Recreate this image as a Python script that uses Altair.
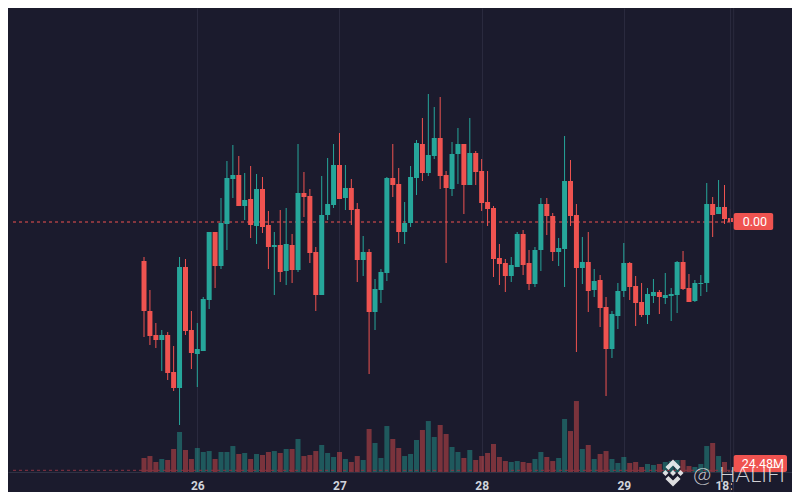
import altair as alt
import pandas as pd

# Hourly candles, 25th 15:00 -> 29th 18:00 (index 0..99).
# Prices are stored in units of 1e-5 (price = value * 1e-5).
open_ = [239, 189, 165, 160, 165, 128, 112, 233, 170, 146,
         149, 200, 268, 234, 276, 321, 325, 294, 301, 274,
         311, 275, 253, 255, 229, 255, 230, 307, 304, 248,
         205, 285, 295, 335, 302, 312, 291, 240, 248, 188,
         210, 227, 322, 316, 268, 277, 322, 356, 327, 344,
         362, 325, 311, 346, 356, 315, 347, 329, 298, 292,
         242, 237, 224, 233, 266, 237, 216, 250, 296, 284,
         248, 251, 319, 285, 232, 238, 210, 220, 193, 151,
         184, 209, 237, 214, 198, 185, 204, 208, 202, 204,
         205, 238, 212, 199, 216, 217, 296, 286, 293, 282]
close = [189, 164, 160, 165, 127, 112, 233, 169, 147, 151,
         201, 268, 234, 277, 322, 325, 294, 300, 275, 311,
         273, 253, 255, 228, 256, 230, 307, 303, 247, 205,
         285, 296, 335, 301, 312, 290, 240, 248, 188, 211,
         228, 322, 315, 268, 277, 323, 357, 327, 345, 362,
         324, 312, 346, 356, 315, 347, 328, 297, 291, 241,
         236, 224, 235, 266, 235, 216, 250, 296, 284, 248,
         252, 319, 284, 232, 238, 209, 219, 192, 151, 186,
         209, 237, 213, 197, 185, 206, 208, 203, 205, 206,
         238, 211, 198, 217, 217, 296, 285, 293, 281, 278]
high = [243, 210, 177, 170, 168, 154, 243, 241, 189, 177,
        203, 268, 268, 302, 339, 355, 344, 327, 334, 326,
        323, 289, 268, 290, 292, 266, 356, 328, 311, 253,
        324, 342, 356, 367, 335, 321, 297, 264, 251, 221,
        231, 323, 356, 332, 298, 334, 360, 382, 406, 393,
        403, 329, 358, 372, 356, 382, 349, 341, 329, 294,
        256, 241, 243, 268, 270, 250, 253, 302, 302, 287,
        262, 364, 340, 296, 263, 268, 231, 225, 203, 189,
        217, 257, 238, 224, 217, 212, 221, 210, 227, 212,
        239, 249, 226, 220, 225, 317, 303, 320, 315, 291]
low = [163, 155, 152, 129, 120, 109, 75, 165, 131, 113,
       149, 191, 212, 231, 250, 302, 294, 280, 262, 256,
       267, 231, 205, 218, 215, 217, 228, 283, 237, 189,
       205, 280, 292, 301, 290, 275, 218, 224, 126, 170,
       197, 219, 303, 257, 256, 273, 305, 319, 324, 341,
       311, 237, 304, 316, 286, 315, 315, 289, 274, 223,
       215, 208, 218, 233, 225, 210, 213, 229, 265, 239,
       234, 213, 274, 148, 216, 188, 203, 173, 104, 142,
       171, 203, 200, 174, 183, 176, 197, 186, 196, 179,
       187, 210, 198, 198, 204, 208, 263, 286, 276, 276]
# Volume in millions
volume_m = [202, 230, 144, 187, 173, 331, 576, 317, 187, 346,
            288, 302, 187, 288, 288, 374, 259, 274, 187, 259,
            245, 288, 302, 274, 331, 331, 475, 230, 245, 302,
            389, 274, 216, 288, 187, 144, 230, 173, 619, 418,
            202, 662, 475, 346, 230, 259, 461, 605, 734, 504,
            677, 547, 360, 288, 202, 317, 173, 230, 274, 403,
            216, 158, 144, 158, 144, 130, 187, 288, 216, 158,
            202, 763, 590, 1022, 331, 389, 187, 259, 302, 187,
            130, 216, 130, 144, 72, 115, 101, 115, 144, 158,
            173, 173, 86, 72, 115, 374, 418, 230, 144, 24.48]

tick_index = [9, 33, 57, 81, 99]
tick_labels = ["26", "27", "28", "29", "18:00"]

BG = "#1b1b2d"
UP = "#26a69a"
DOWN = "#ef5350"
GRID = "#2a2a3e"
DOMAIN = "#2e3144"

n = len(open_)
df = pd.DataFrame({"i": list(range(n)), "open": open_, "close": close,
                   "high": high, "low": low, "vol": volume_m})
df["dir"] = ["up" if c >= o else "down" for o, c in zip(open_, close)]

X_MIN, X_MAX = -22.117, 108.55
EDGE = 99.55
xscale = alt.Scale(domain=[X_MIN, X_MAX], nice=False, zero=False)
pscale = alt.Scale(domain=[28, 492], nice=False, zero=False)
vscale = alt.Scale(domain=[0, 6681.6], nice=False, zero=False)
color = alt.Color("dir:N", scale=alt.Scale(domain=["up", "down"], range=[UP, DOWN]), legend=None)

label_expr = " : ".join(f"datum.value == {v} ? '{t}'" for v, t in zip(tick_index, tick_labels)) + " : ''"
xaxis = alt.Axis(values=tick_index, labelExpr=label_expr, grid=True, gridColor=GRID, gridWidth=1,
                 domain=True, domainColor=DOMAIN, ticks=False, labelColor="#d1d4dc",
                 labelFont="Roboto", labelFontSize=12, labelFontWeight="bold", labelPadding=8,
                 title=None, zindex=0, labelFlush=False)


def X(field):
    return alt.X(field, scale=xscale, axis=xaxis)


base = alt.Chart(df)

vol_bars = base.mark_bar(size=5, opacity=0.45).encode(
    x=X("i:Q"), y=alt.Y("vol:Q", scale=vscale, axis=None), y2=alt.datum(0), color=color)

last_close = close[-1]
last_vol = volume_m[-1]
lines_df = pd.DataFrame({"x0": [X_MIN], "x1": [EDGE], "p": [last_close], "v": [last_vol]})
vol_line = alt.Chart(lines_df).mark_rule(color="#8c3342", strokeDash=[3, 3], strokeWidth=1).encode(
    x=X("x0:Q"), x2="x1:Q", y=alt.Y("v:Q", scale=vscale, axis=None))
price_line = alt.Chart(lines_df).mark_rule(color=DOWN, strokeDash=[3, 3], strokeWidth=1).encode(
    x=X("x0:Q"), x2="x1:Q", y=alt.Y("p:Q", scale=pscale, axis=None))

wicks = base.mark_rule(strokeWidth=1).encode(
    x=X("i:Q"), y=alt.Y("low:Q", scale=pscale, axis=None), y2="high:Q", color=color)
bodies = base.mark_bar(size=5).encode(
    x=X("i:Q"), y=alt.Y("open:Q", scale=pscale, axis=None), y2="close:Q", color=color)

# price-scale strip on the right
strip_df = pd.DataFrame({"x0": [EDGE], "x1": [X_MAX]})
cover = alt.Chart(strip_df).mark_rect(color=BG).encode(
    x=X("x0:Q"), x2="x1:Q", y=alt.value(465), y2=alt.value(484))
edges_df = pd.DataFrame({"x": [tick_index[-1], EDGE]})
edge_rules = alt.Chart(edges_df).mark_rule(color=GRID, strokeWidth=1).encode(
    x=X("x:Q"), y=alt.value(0), y2=alt.value(484))

pbox_df = pd.DataFrame({"x0": [EDGE], "x1": [106.22], "xc": [103.13],
                        "y0": [last_close - 8], "y1": [last_close + 9], "yc": [last_close + 0.5],
                        "t": [f"{last_close * 1e-5:.2f}"]})
pbox = alt.Chart(pbox_df).mark_rect(color=DOWN, cornerRadius=2).encode(
    x=X("x0:Q"), x2="x1:Q", y=alt.Y("y0:Q", scale=pscale, axis=None), y2="y1:Q")
ptext = alt.Chart(pbox_df).mark_text(color="white", font="Roboto", fontSize=12.5, baseline="middle").encode(
    x=X("xc:Q"), y=alt.Y("yc:Q", scale=pscale, axis=None), text="t:N")

vbox_df = pd.DataFrame({"x0": [EDGE], "x1": [X_MAX], "xc": [104.47],
                        "y0": [0], "y1": [245], "yc": [122], "t": [f"{last_vol:.2f}M"]})
vbox = alt.Chart(vbox_df).mark_rect(color=DOWN, cornerRadius=2).encode(
    x=X("x0:Q"), x2="x1:Q", y=alt.Y("y0:Q", scale=vscale, axis=None), y2="y1:Q")
vtext = alt.Chart(vbox_df).mark_text(color="white", font="Roboto", fontSize=12.5, baseline="middle").encode(
    x=X("xc:Q"), y=alt.Y("yc:Q", scale=vscale, axis=None), text="t:N")

# watermark
logo_path = ("M0,-0.22 L0.22,0 L0,0.22 L-0.22,0 Z "
             "M-0.78,0 L-0.56,-0.22 L-0.34,0 L-0.56,0.22 Z "
             "M0.34,0 L0.56,-0.22 L0.78,0 L0.56,0.22 Z "
             "M0,-1 L0.56,-0.44 L0.34,-0.22 L0,-0.56 L-0.34,-0.22 L-0.56,-0.44 Z "
             "M0,1 L0.56,0.44 L0.34,0.22 L0,0.56 L-0.34,0.22 L-0.56,0.44 Z")
wm_df = pd.DataFrame({"t": ["@ HALIFI"]})
logo = alt.Chart(wm_df).mark_point(filled=True, shape=logo_path, size=729, color="white",
                                   opacity=0.85, strokeWidth=0).encode(
    x=alt.value(665), y=alt.value(465))
wm_at = alt.Chart(pd.DataFrame({"t": ["@"]})).mark_text(
    color="white", opacity=0.8, font="Lato", fontSize=22, fontWeight=300,
    align="left", baseline="alphabetic").encode(x=alt.value(685), y=alt.value(474), text="t:N")
wm_name = alt.Chart(pd.DataFrame({"t": ["HALIFI"]})).mark_text(
    color="white", opacity=0.8, font="Lato", fontSize=22, fontWeight=300,
    align="left", baseline="alphabetic").encode(x=alt.value(711), y=alt.value(474), text="t:N")

chart = alt.layer(
    vol_bars, vol_line, price_line, wicks, bodies, cover, edge_rules,
    pbox, ptext, vbox, vtext, logo, wm_at, wm_name
).resolve_scale(y="independent").properties(
    width=784, height=464,
    padding={"left": 0, "top": 0, "right": 0, "bottom": 20},
    autosize=alt.AutoSizeParams(type="none"),
    background=BG,
).configure_view(stroke=None)

chart.save("out.html", embed_options={"renderer": "svg", "actions": False})
